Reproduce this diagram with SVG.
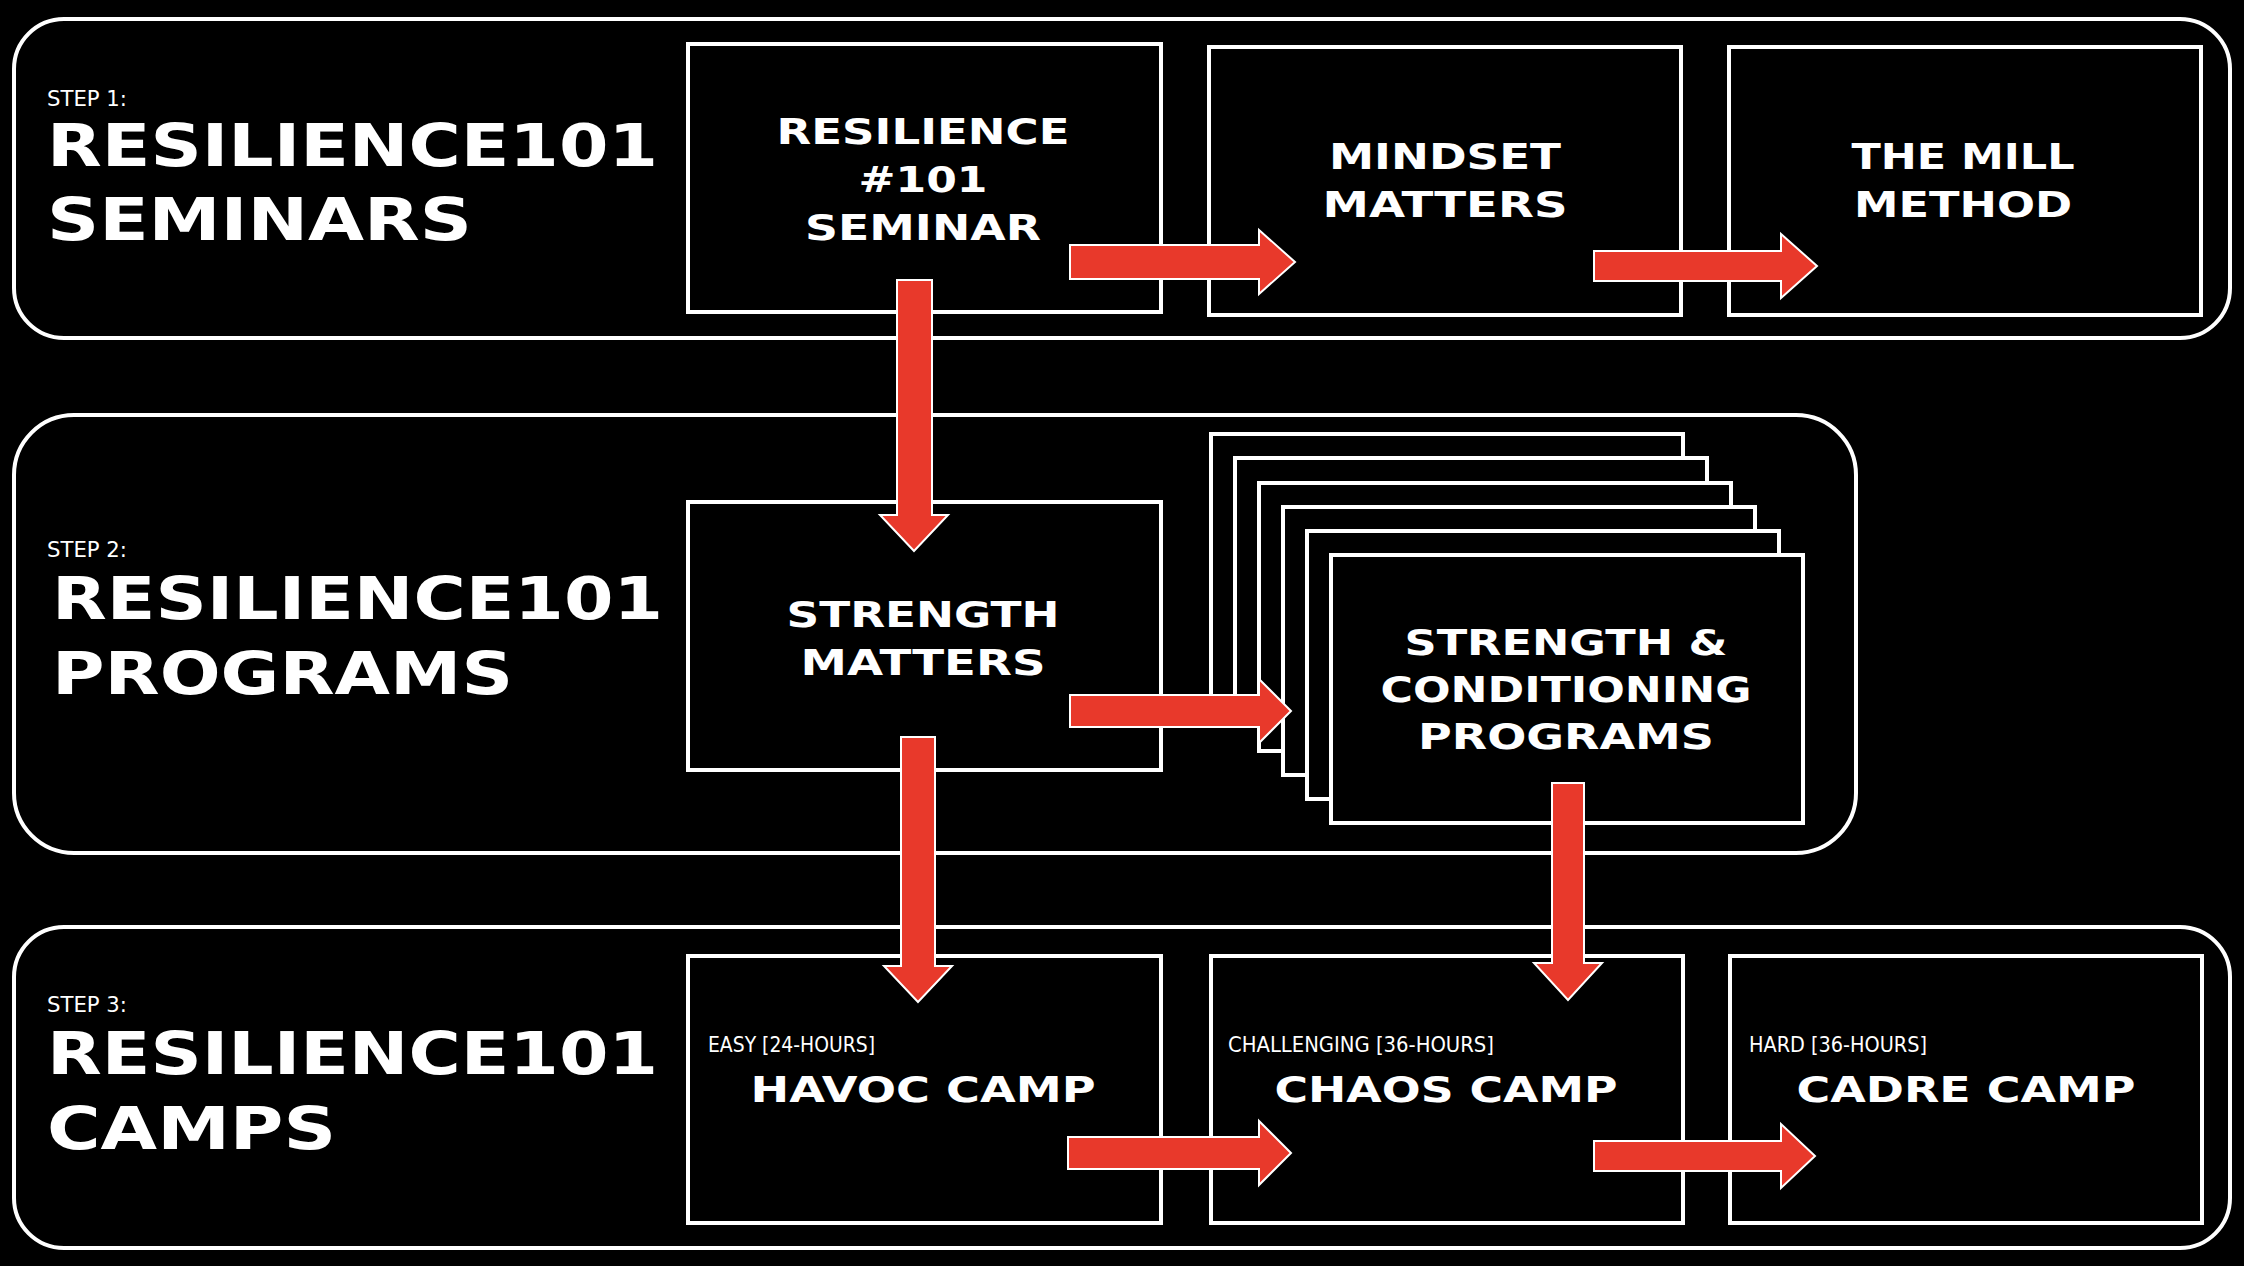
<svg xmlns="http://www.w3.org/2000/svg" width="2244" height="1266" viewBox="0 0 2244 1266">
<style>
.panel{fill:none;stroke:#fff;stroke-width:4}
.box{fill:#000;stroke:#fff;stroke-width:4}
.t{font-family:"DejaVu Sans",sans-serif;font-weight:bold;fill:#fff;dominant-baseline:central}
.n{font-size:35px;text-anchor:middle}
.h{font-size:58px}
.s{font-family:"DejaVu Sans Condensed","DejaVu Sans",sans-serif;font-weight:normal;font-size:21px;fill:#fff;dominant-baseline:central}
.arr{fill:#e8392b;stroke:#fff;stroke-width:2}
</style>
<rect width="2244" height="1266" fill="#000"/>
<g id="panels">
<rect class="panel" x="14" y="19" width="2216" height="319" rx="50"/>
<rect class="panel" x="14" y="415" width="1842" height="438" rx="60"/>
<rect class="panel" x="14" y="927" width="2216" height="321" rx="50"/>
</g>
<g id="labels">
<text class="s" x="47" y="99" textLength="80" lengthAdjust="spacingAndGlyphs">STEP 1:</text>
<text class="t h" x="47" y="146" textLength="611" lengthAdjust="spacingAndGlyphs">RESILIENCE101</text>
<text class="t h" x="47" y="220" textLength="425" lengthAdjust="spacingAndGlyphs">SEMINARS</text>
<text class="s" x="47" y="550" textLength="80" lengthAdjust="spacingAndGlyphs">STEP 2:</text>
<text class="t h" x="52" y="599" textLength="611" lengthAdjust="spacingAndGlyphs">RESILIENCE101</text>
<text class="t h" x="52" y="674" textLength="461" lengthAdjust="spacingAndGlyphs">PROGRAMS</text>
<text class="s" x="47" y="1005" textLength="80" lengthAdjust="spacingAndGlyphs">STEP 3:</text>
<text class="t h" x="47" y="1054" textLength="611" lengthAdjust="spacingAndGlyphs">RESILIENCE101</text>
<text class="t h" x="47" y="1129" textLength="289" lengthAdjust="spacingAndGlyphs">CAMPS</text>
</g>
<g id="n-seminar">
<rect class="box" x="688" y="44" width="473" height="268"/>
<text class="t n" x="923" y="132" textLength="293" lengthAdjust="spacingAndGlyphs">RESILIENCE</text>
<text class="t n" x="923" y="180" textLength="129" lengthAdjust="spacingAndGlyphs">#101</text>
<text class="t n" x="923" y="228" textLength="236" lengthAdjust="spacingAndGlyphs">SEMINAR</text>
</g>
<g id="n-mindset">
<rect class="box" x="1209" y="47" width="472" height="268"/>
<text class="t n" x="1445" y="157" textLength="232" lengthAdjust="spacingAndGlyphs">MINDSET</text>
<text class="t n" x="1445" y="205" textLength="245" lengthAdjust="spacingAndGlyphs">MATTERS</text>
</g>
<g id="n-mill">
<rect class="box" x="1729" y="47" width="472" height="268"/>
<text class="t n" x="1963" y="157" textLength="223" lengthAdjust="spacingAndGlyphs">THE MILL</text>
<text class="t n" x="1963" y="205" textLength="218" lengthAdjust="spacingAndGlyphs">METHOD</text>
</g>
<g id="n-strength">
<rect class="box" x="688" y="502" width="473" height="268"/>
<text class="t n" x="923" y="615" textLength="273" lengthAdjust="spacingAndGlyphs">STRENGTH</text>
<text class="t n" x="923" y="663" textLength="245" lengthAdjust="spacingAndGlyphs">MATTERS</text>
</g>
<g id="n-programs">
<rect class="box" x="1211" y="434" width="472" height="268"/>
<rect class="box" x="1235" y="458" width="472" height="268"/>
<rect class="box" x="1259" y="483" width="472" height="268"/>
<rect class="box" x="1283" y="507" width="472" height="268"/>
<rect class="box" x="1307" y="531" width="472" height="268"/>
<rect class="box" x="1331" y="555" width="472" height="268"/>
<text class="t n" x="1566" y="643" textLength="323" lengthAdjust="spacingAndGlyphs">STRENGTH &amp;</text>
<text class="t n" x="1566" y="690" textLength="371" lengthAdjust="spacingAndGlyphs">CONDITIONING</text>
<text class="t n" x="1566" y="737" textLength="296" lengthAdjust="spacingAndGlyphs">PROGRAMS</text>
</g>
<g id="n-havoc">
<rect class="box" x="688" y="956" width="473" height="267"/>
<text class="s" x="708" y="1045" textLength="167" lengthAdjust="spacingAndGlyphs">EASY [24-HOURS]</text>
<text class="t n" x="923" y="1090" textLength="345" lengthAdjust="spacingAndGlyphs">HAVOC CAMP</text>
</g>
<g id="n-chaos">
<rect class="box" x="1211" y="956" width="472" height="267"/>
<text class="s" x="1228" y="1045" textLength="266" lengthAdjust="spacingAndGlyphs">CHALLENGING [36-HOURS]</text>
<text class="t n" x="1446" y="1090" textLength="343" lengthAdjust="spacingAndGlyphs">CHAOS CAMP</text>
</g>
<g id="n-cadre">
<rect class="box" x="1730" y="956" width="472" height="267"/>
<text class="s" x="1749" y="1045" textLength="178" lengthAdjust="spacingAndGlyphs">HARD [36-HOURS]</text>
<text class="t n" x="1966" y="1090" textLength="339" lengthAdjust="spacingAndGlyphs">CADRE CAMP</text>
</g>
<g id="connectors">
<polygon class="arr" points="1070,245 1259,245 1259,230 1295,262 1259,294 1259,279 1070,279"/>
<polygon class="arr" points="1594,251 1781,251 1781,234 1817,266 1781,298 1781,281 1594,281"/>
<polygon class="arr" points="1070,695 1259,695 1259,679 1291,711 1259,743 1259,727 1070,727"/>
<polygon class="arr" points="1068,1137 1259,1137 1259,1121 1291,1153 1259,1185 1259,1169 1068,1169"/>
<polygon class="arr" points="1594,1141 1781,1141 1781,1124 1815,1156 1781,1188 1781,1171 1594,1171"/>
<polygon class="arr" points="897,280 932,280 932,515 948,515 914,551 880,515 897,515"/>
<polygon class="arr" points="901,737 935,737 935,966 952,966 918,1002 884,966 901,966"/>
<polygon class="arr" points="1552,783 1584,783 1584,963 1602,963 1568,1000 1534,963 1552,963"/>
</g>
</svg>
